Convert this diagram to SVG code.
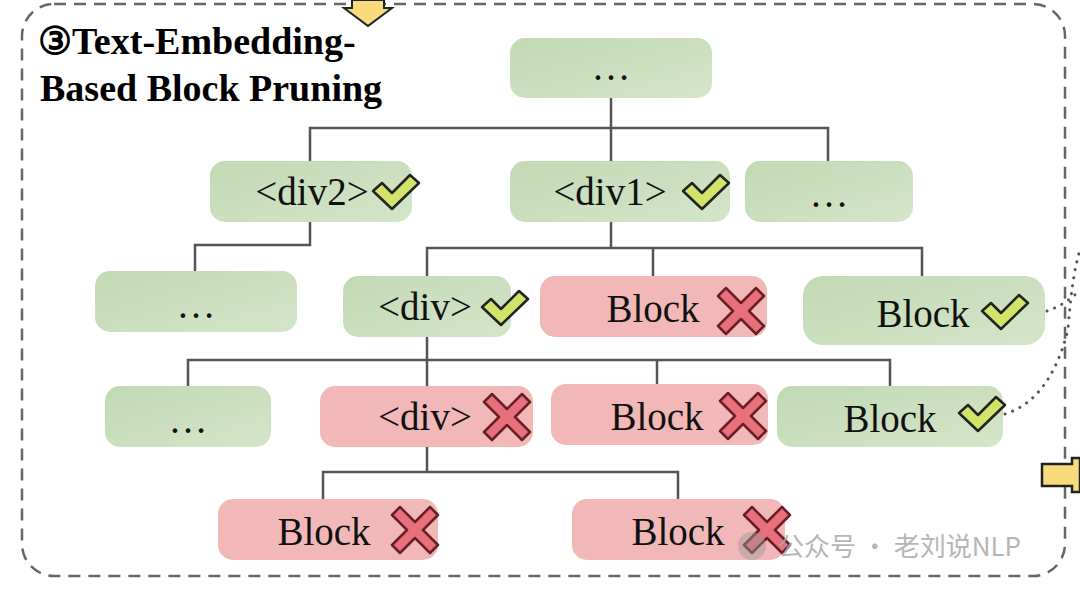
<svg xmlns="http://www.w3.org/2000/svg" width="1080" height="590" viewBox="0 0 1080 590">
<style>
.g{fill:url(#gg)}
.r{fill:#f2b8b8}
.t{font-family:"Liberation Serif","DejaVu Serif",serif;font-size:39px;fill:#111;text-anchor:middle}
.h{font-family:"Liberation Serif","DejaVu Serif",serif;font-size:38px;font-weight:bold;fill:#000}
.c{fill:none;stroke:#555;stroke-width:2.5}
.ck{fill:#d2e36a;stroke:#222;stroke-width:2.5;stroke-linejoin:round}
.x{fill:#e8707a;stroke:#6a1f25;stroke-width:2.5;stroke-linejoin:round}
.d{fill:none;stroke:#555;stroke-width:3;stroke-dasharray:0.1 8;stroke-linecap:round}
</style>
<defs>
<linearGradient id="gg" x1="0" y1="0" x2="1" y2="1"><stop offset="0" stop-color="#c2dab4"/><stop offset="1" stop-color="#d4e5c8"/></linearGradient>
<path id="chk" class="ck" d="M-23,-2 L-14,-10 L-4,0 L14,-18 L23,-10 L-4,16 Z"/>
<path id="crs" class="x" d="M-23,-15 L-15,-23 L0,-8 L15,-23 L23,-15 L8,0 L23,15 L15,23 L0,8 L-15,23 L-23,15 L-8,0 Z"/>
</defs>
<rect width="1080" height="590" fill="#fff"/>
<rect x="22" y="4" width="1043" height="572" rx="32" fill="none" stroke="#666" stroke-width="2.5" stroke-dasharray="12 8"/>
<text class="h" x="38" y="54">③Text-Embedding-</text>
<text class="h" x="40" y="101">Based Block Pruning</text>
<g id="connectors">
<path class="c" d="M611,98V128M310,161V128H828V161M611,128V161"/>
<path class="c" d="M310,222V245H195V271"/>
<path class="c" d="M611,222V248M427,276V248H922V276M653,248V276"/>
<path class="c" d="M427,337V360M188,386V360H890V386M427,360V386M657,360V384"/>
<path class="c" d="M427,447V472M323,499V472H678V499"/>
<path class="d" d="M1047,311 Q1065,305 1080,290"/>
<path class="d" d="M1005,414 Q1050,400 1068,330 Q1072,275 1080,250"/>
</g>
<path d="M352,0 L352,8 L344,8 L368,26 L392,8 L384,8 L384,0 Z" fill="#f8dc7c" stroke="#222" stroke-width="2"/>
<path d="M1080,458 L1072,458 L1072,464 L1042,464 L1042,486 L1072,486 L1072,492 L1080,492 Z" fill="#f8dc7c" stroke="#222" stroke-width="2.5"/>
<g id="n0"><rect class="g" x="510" y="38" width="202" height="60" rx="15"/><text class="t" x="611" y="80">…</text></g>
<g id="n1"><rect class="g" x="210" y="161" width="202" height="61" rx="15"/><text class="t" x="312" y="205">&lt;div2&gt;</text><use href="#chk" x="396" y="193"/></g>
<g id="n2"><rect class="g" x="510" y="161" width="220" height="61" rx="15"/><text class="t" x="610" y="205">&lt;div1&gt;</text><use href="#chk" x="706" y="193"/></g>
<g id="n3"><rect class="g" x="745" y="161" width="168" height="61" rx="15"/><text class="t" x="829" y="207">…</text></g>
<g id="n4"><rect class="g" x="95" y="271" width="202" height="61" rx="15"/><text class="t" x="196" y="318">…</text></g>
<g id="n5"><rect class="g" x="343" y="276" width="168" height="61" rx="15"/><text class="t" x="425" y="320">&lt;div&gt;</text><use href="#chk" x="505" y="309"/></g>
<g id="n6"><rect class="r" x="540" y="276" width="227" height="61" rx="15"/><text class="t" x="653" y="322">Block</text><use href="#crs" x="741" y="311"/></g>
<g id="n7"><rect class="g" x="803" y="276" width="242" height="69" rx="20"/><text class="t" x="923" y="327">Block</text><use href="#chk" x="1005" y="313"/></g>
<g id="n8"><rect class="g" x="105" y="386" width="166" height="61" rx="15"/><text class="t" x="188" y="433">…</text></g>
<g id="n9"><rect class="r" x="320" y="386" width="213" height="61" rx="15"/><text class="t" x="425" y="430">&lt;div&gt;</text><use href="#crs" x="507" y="417"/></g>
<g id="n10"><rect class="r" x="551" y="384" width="217" height="61" rx="15"/><text class="t" x="657" y="430">Block</text><use href="#crs" x="743" y="416"/></g>
<g id="n11"><rect class="g" x="777" y="386" width="226" height="61" rx="15"/><text class="t" x="890" y="432">Block</text><use href="#chk" x="982" y="415"/></g>
<g id="n12"><rect class="r" x="218" y="499" width="220" height="61" rx="15"/><text class="t" x="324" y="545">Block</text><use href="#crs" x="415" y="530"/></g>
<g id="n13"><rect class="r" x="572" y="499" width="213" height="61" rx="15"/><text class="t" x="678" y="545">Block</text><use href="#crs" x="767" y="530"/></g>
<circle cx="752" cy="546" r="14" fill="#999" opacity="0.45"/>
<text x="778" y="556" font-family="'Noto Sans CJK SC',sans-serif" font-size="26" fill="#aaa" opacity="0.85">公众号 · 老刘说NLP</text>
</svg>
